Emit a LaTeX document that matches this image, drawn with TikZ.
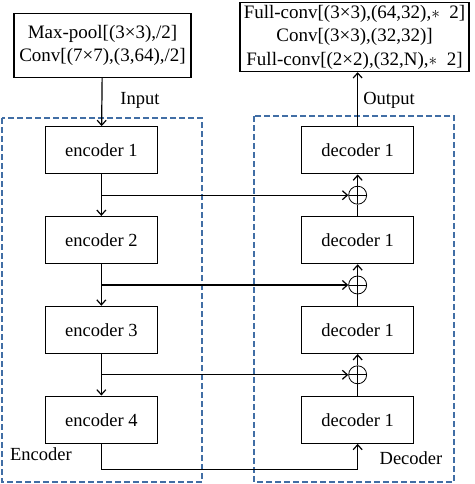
\documentclass[tikz,border=0pt]{standalone}
\usepackage{fontspec}
\setmainfont{Liberation Serif}
\usepackage{tikz}
\usetikzlibrary{positioning, matrix, fit, arrows, arrows.meta}
\definecolor{grpblue}{RGB}{65,110,165}

\begin{document}
\begin{tikzpicture}[x=1pt, y=1pt, >={Straight Barb[length=5pt,width=9pt]},
    font=\fontsize{18.5}{24}\selectfont,
    block/.style={draw, line width=1.3pt, minimum width=112pt, minimum height=47pt, inner sep=0pt},
    spec/.style={draw, line width=1.3pt, align=center, inner sep=0pt,
      font=\fontsize{19}{23.5}\selectfont},
    sum/.style={draw, circle, line width=0.8pt, minimum size=18pt, inner sep=0pt,
      path picture={\draw[line width=0.8pt] (path picture bounding box.north) -- (path picture bounding box.south)
        (path picture bounding box.west) -- (path picture bounding box.east);}},
    group/.style={draw=grpblue, line width=1.3pt, dash pattern=on 6pt off 3pt},
    link/.style={line width=1.2pt}]
  \useasboundingbox (0,0) rectangle (474,-484);
  \matrix (m) [matrix of nodes, column sep=143pt, row sep=11.35pt] at (229.5,-285)
  {
    |[block] (e1)| encoder 1 & |[block] (d1)| decoder 1 \\
                             & |[sum] (s1)| {}          \\
    |[block] (e2)| encoder 2 & |[block] (d2)| decoder 1 \\
                             & |[sum] (s2)| {}          \\
    |[block] (e3)| encoder 3 & |[block] (d3)| decoder 1 \\
                             & |[sum] (s3)| {}          \\
    |[block] (e4)| encoder 4 & |[block] (d4)| decoder 1 \\
  };
  \node[spec, minimum width=177pt, minimum height=64pt] (pre) at (102.5,-45.5)
    {Max-pool[(3×3),/2]\\Conv[(7×7),(3,64),/2]};
  \node[spec, minimum width=229pt, minimum height=69pt] (post) at (354.5,-37)
    {Full-conv[(3×3),(64,32),$\ast$\enspace 2]\\Conv[(3×3),(32,32)]\\Full-conv[(2×2),(32,N),$\ast$\enspace 2]};
  % groups
  \draw[group] (2,-118) rectangle (202,-482);
  \draw[group] (254,-116) rectangle (454,-482);
  \node (inlbl) at (140,-100) {Input};
  \node (outlbl) at (389,-100) {Output};
  \node (enclbl) at (41,-454) {Encoder};
  \node (declbl) at (411,-458) {Decoder};
  % connectors
  \draw[link,->] (pre) -- (e1);
  \foreach \i/\j in {1/2,2/3,3/4}
    \draw[link,->] (e\i) -- (e\j);
  \foreach \i in {1,2,3}
    \draw[link,->] (e\i.south |- s\i) -- (s\i.west);
  \draw[link,->] (e4.south) -- ++(0,-26) -| (d4.south);
  \foreach \i/\j in {2/1,3/2,4/3} {
    \draw[link] (d\i) -- (s\j);
    \draw[link,->] (s\j) -- (d\j);
  }
  \draw[link,->] (d1) -- (d1 |- post.south);
\end{tikzpicture}
\end{document}
